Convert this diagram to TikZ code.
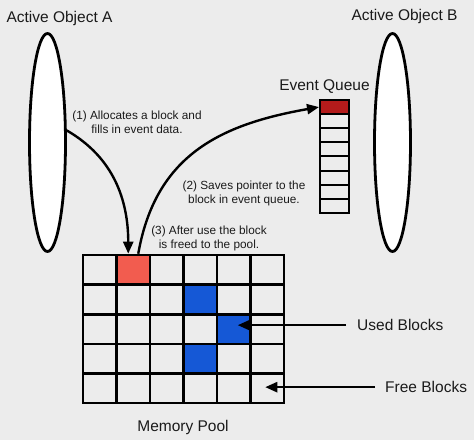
\documentclass[tikz,border=0pt]{standalone}
\usepackage{fontspec}
\setmainfont{Liberation Sans}
\usetikzlibrary{shapes.geometric,arrows.meta}
\definecolor{bg}{HTML}{ECECEC}
\definecolor{salmon}{HTML}{F25C4F}
\definecolor{usedblue}{HTML}{1558D6}
\definecolor{qred}{HTML}{B31B1B}
\definecolor{txt}{HTML}{1A1A1A}
\tikzset{
  actor/.style={ellipse, draw=black, fill=white, line width=2.8pt, minimum width=36pt, minimum height=218pt, inner sep=0pt},
  title/.style={font=\fontsize{15.5}{18}\selectfont, text=txt, inner sep=0pt, anchor=base},
  lbl/.style={font=\fontsize{11.8}{14}\selectfont, text=txt, align=center, inner sep=0pt},
  cell/.style={rectangle, draw=black, fill=bg, line width=2.6pt, minimum width=33.5pt, minimum height=29.6pt, inner sep=0pt},
  qcell/.style={rectangle, draw=black, fill=bg, line width=2pt, minimum width=29pt, minimum height=14.1pt, inner sep=0pt},
  arr/.style={line width=2.4pt, -{Triangle[length=12pt,width=10pt]}},
}
\begin{document}
\begin{tikzpicture}[x=1pt,y=1pt]
\fill[bg] (0,0) rectangle (474,-440);
\useasboundingbox (0,0) rectangle (474,-440);

% active objects
\node[actor] (A) at (47.5,-142.5) {};
\node[actor] (B) at (392.5,-142.5) {};
\node[title] (tA) at (59.5,-22) {Active Object A};
\node[title] (tB) at (404.5,-20) {Active Object B};

% event queue
\node[title] (tQ) at (324.5,-90.7) {Event Queue};
\foreach \i in {1,...,8} {
  \node[qcell] (q\i) at (334.5,{-100-14.1*(\i-0.5)}) {};
}
\node[qcell, fill=qred] at (q1) {};

% memory pool
\foreach \r in {1,...,5} {
  \foreach \c in {1,...,6} {
    \node[cell] (c\r\c) at ({83+33.5*(\c-0.5)},{-255-29.6*(\r-0.5)}) {};
  }
}
\node[cell, fill=salmon] at (c12) {};
\node[cell, fill=usedblue] at (c24) {};
\node[cell, fill=usedblue] at (c35) {};
\node[cell, fill=usedblue] at (c44) {};
\node[title] (tP) at (183,-431.7) {Memory Pool};

% labels
\node[lbl] (l1) at (137,-122) {(1) Allocates a block and\\fills in event data.};
\node[lbl] (l2) at (244,-193.5) {(2) Saves pointer to the\\block in event queue.};
\node[lbl] (l3) at (209,-238.5) {(3) After use the block\\is freed to the pool.};
\node[title, anchor=base west] (used) at (357,-330.7) {Used Blocks};
\node[title, anchor=base west] (free) at (385,-392.7) {Free Blocks};

% connectors
\draw[arr] (A.32) to[out=-30,in=90] ([xshift=-5pt]c12.north);
\draw[arr] ([xshift=5pt]c12.north) to[out=80,in=190,looseness=1.1] (q1.west);
\coordinate (u) at (c35.center |- used.west);
\draw[arr] ([xshift=-11pt]used.west) -- ([xshift=4pt]u);
\coordinate (f) at (c56.center |- free.west);
\draw[arr] ([xshift=-10pt]free.west) -- ([xshift=-2pt]f);
\end{tikzpicture}
\end{document}
